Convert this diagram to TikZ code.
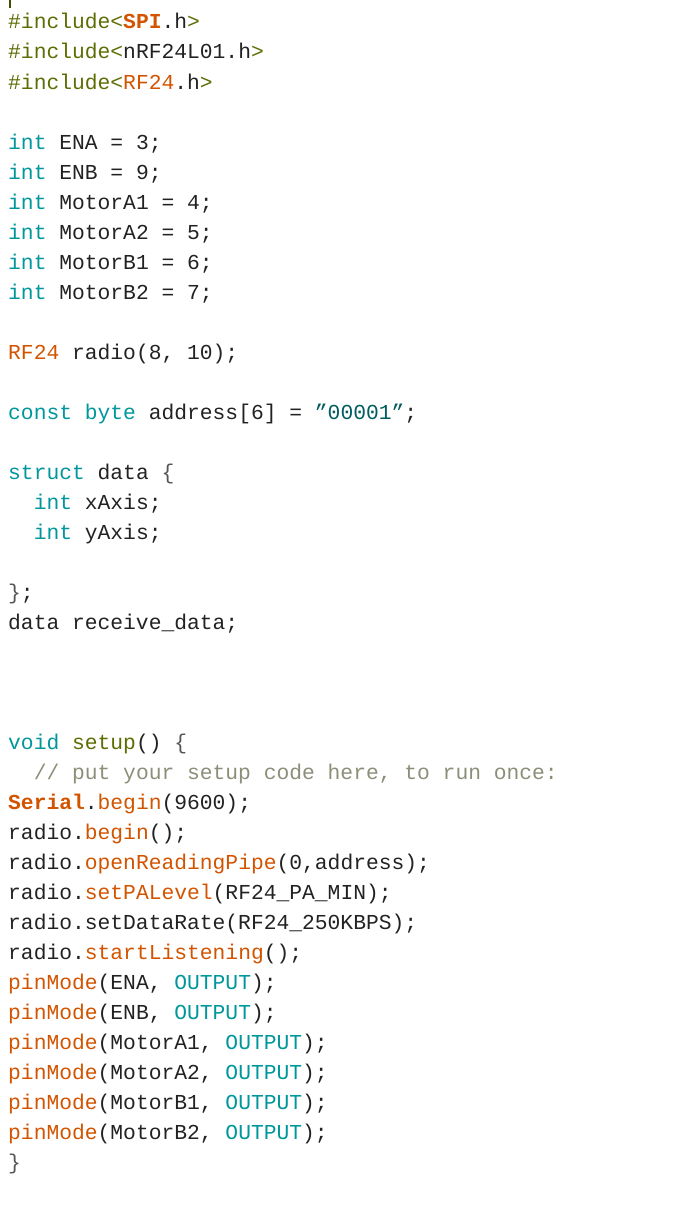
\documentclass[tikz,border=0pt]{standalone}
\usepackage{fontspec}
\setmainfont{Liberation Mono}
\definecolor{inc}{HTML}{5E6D03}
\definecolor{kw}{HTML}{00979C}
\definecolor{fn}{HTML}{D35400}
\definecolor{cm}{HTML}{8A8F78}
\definecolor{st}{HTML}{005C5F}
\definecolor{tx}{HTML}{222222}
\definecolor{br}{HTML}{555555}
\newcommand{\cI}[1]{\textcolor{inc}{#1}}
\newcommand{\cK}[1]{\textcolor{kw}{#1}}
\newcommand{\cF}[1]{\textcolor{fn}{#1}}
\newcommand{\cB}[1]{\textcolor{fn}{\bfseries #1}}
\newcommand{\cC}[1]{\textcolor{cm}{#1}}
\newcommand{\cS}[1]{\textcolor{st}{#1}}
\newcommand{\cR}[1]{\textcolor{br}{#1}}
\begin{document}
\begin{tikzpicture}[x=1pt,y=-1pt,
  code/.style={anchor=base west,inner sep=0pt,text=tx,font=\fontsize{21.3}{21.3}\selectfont}]
\useasboundingbox (0,0) rectangle (685,1207);
\fill[inc!70!black] (9,0) rectangle (11,8);
\def\codeln#1#2#3{\node[code] (#1) at (8,{29+30*#2}) {#3};}
\codeln{a}{0}{\cI{\#include<}\cB{SPI}.h\cI{>}}
\codeln{b}{1}{\cI{\#include<}nRF24L01.h\cI{>}}
\codeln{c}{2}{\cI{\#include<}\cF{RF24}.h\cI{>}}
\codeln{d}{4}{\cK{int} ENA = 3;}
\codeln{e}{5}{\cK{int} ENB = 9;}
\codeln{f}{6}{\cK{int} MotorA1 = 4;}
\codeln{g}{7}{\cK{int} MotorA2 = 5;}
\codeln{h}{8}{\cK{int} MotorB1 = 6;}
\codeln{i}{9}{\cK{int} MotorB2 = 7;}
\codeln{j}{11}{\cF{RF24} radio(8, 10);}
\codeln{k}{13}{\cK{const} \cK{byte} address[6] = \cS{"00001"};}
\codeln{l}{15}{\cK{struct} data \cR{\{}}
\codeln{m}{16}{\ \ \cK{int} xAxis;}
\codeln{n}{17}{\ \ \cK{int} yAxis;}
\codeln{o}{19}{\cR{\}};}
\codeln{p}{20}{data receive\_data;}
\codeln{q}{24}{\cK{void} \cI{setup}() \cR{\{}}
\codeln{r}{25}{\ \ \cC{// put your setup code here, to run once:}}
\codeln{s}{26}{\cB{Serial}.\cF{begin}(9600);}
\codeln{t}{27}{radio.\cF{begin}();}
\codeln{u}{28}{radio.\cF{openReadingPipe}(0,address);}
\codeln{v}{29}{radio.\cF{setPALevel}(RF24\_PA\_MIN);}
\codeln{w}{30}{radio.setDataRate(RF24\_250KBPS);}
\codeln{x}{31}{radio.\cF{startListening}();}
\codeln{y}{32}{\cF{pinMode}(ENA, \cK{OUTPUT});}
\codeln{z}{33}{\cF{pinMode}(ENB, \cK{OUTPUT});}
\codeln{aa}{34}{\cF{pinMode}(MotorA1, \cK{OUTPUT});}
\codeln{ab}{35}{\cF{pinMode}(MotorA2, \cK{OUTPUT});}
\codeln{ac}{36}{\cF{pinMode}(MotorB1, \cK{OUTPUT});}
\codeln{ad}{37}{\cF{pinMode}(MotorB2, \cK{OUTPUT});}
\codeln{ae}{38}{\cR{\}}}
\end{tikzpicture}
\end{document}
